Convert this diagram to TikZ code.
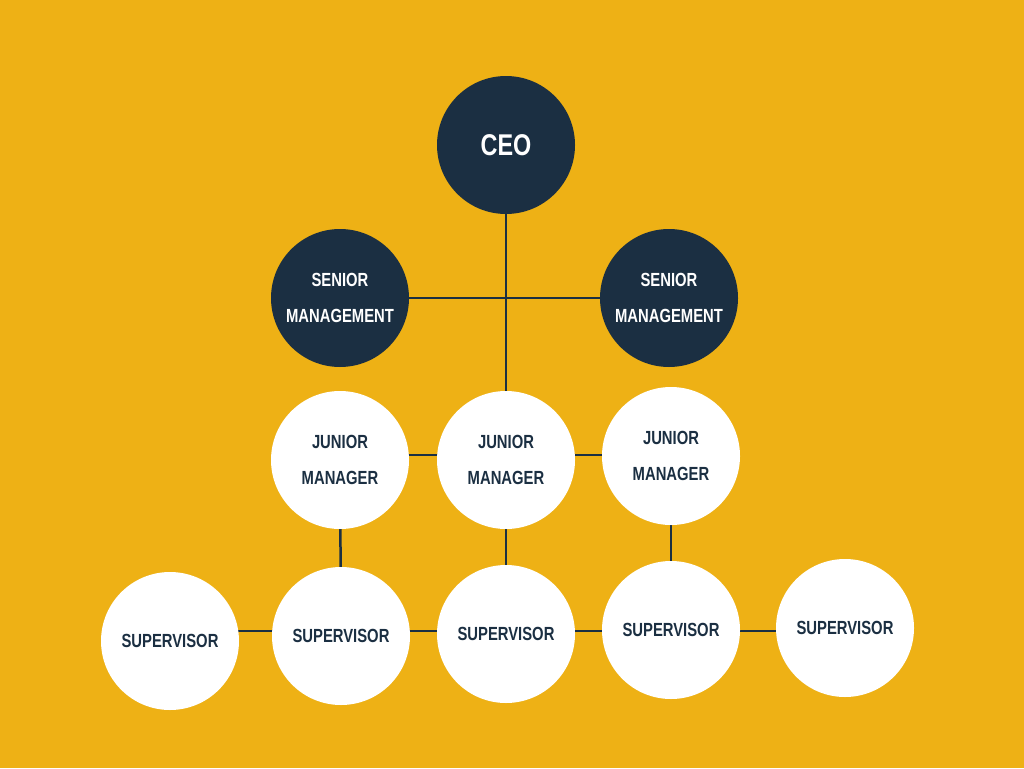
\documentclass[tikz,border=0pt]{standalone}
\usepackage{fontspec}
\setmainfont{Liberation Sans}[FakeStretch=0.78]
\definecolor{bg}{HTML}{EEB115}
\definecolor{dk}{HTML}{1B2F42}
\begin{document}
\begin{tikzpicture}[x=1pt,y=-1pt,
 dkc/.style={circle,fill=dk,minimum size=138pt,inner sep=0,text=white,font=\bfseries\fontsize{19}{36}\selectfont,align=center},
 wc/.style={circle,fill=white,minimum size=138pt,inner sep=0,text=dk,font=\bfseries\fontsize{19}{36}\selectfont,align=center},
 ln/.style={draw=dk,line width=2.5pt}]
\fill[bg] (0,0) rectangle (1024,768);
\useasboundingbox (0,0) rectangle (1024,768);
\coordinate (m1) at (506,298);
\coordinate (jl) at (506,455);
\draw[ln] (506,145) -- (506,392);
\draw[ln] (340,298) -- (669,298);
\draw[ln] (340,455) -- (671,455);
\draw[ln] (340,460) -- (341,636);
\draw[ln] (506,460) -- (506,634);
\draw[ln] (671,456) -- (671,630);
\draw[ln] (170,631) -- (845,631);
\node[dkc,font=\bfseries\fontsize{30}{36}\selectfont] (ceo) at (506,145) {CEO};
\node[dkc] (s1) at (340,298) {SENIOR\\MANAGEMENT};
\node[dkc] (s2) at (669,298) {SENIOR\\MANAGEMENT};
\node[wc] (j1) at (340,460) {JUNIOR\\MANAGER};
\node[wc] (j2) at (506,460) {JUNIOR\\MANAGER};
\node[wc] (j3) at (671,456) {JUNIOR\\MANAGER};
\node[wc] (p1) at (170,641) {SUPERVISOR};
\node[wc] (p2) at (341,636) {SUPERVISOR};
\node[wc] (p3) at (506,634) {SUPERVISOR};
\node[wc] (p4) at (671,630) {SUPERVISOR};
\node[wc] (p5) at (845,628) {SUPERVISOR};
\end{tikzpicture}
\end{document}
